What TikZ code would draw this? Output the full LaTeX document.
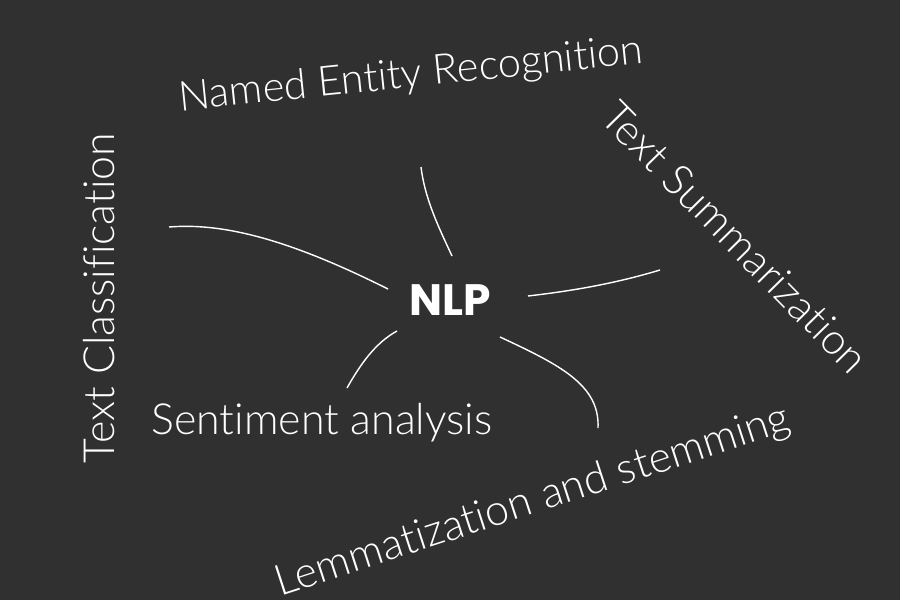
\documentclass[tikz,border=0pt]{standalone}
\usepackage{fontspec}
\setmainfont{Lato Light}[Ligatures=NoCommon]
\newfontfamily\nlpfont{Poppins}[UprightFont=* Bold]
\usepackage{xcolor}
\definecolor{board}{HTML}{303030}

\begin{document}
\begin{tikzpicture}[x=0.01cm,y=-0.01cm,
	topic/.style={text=white,font=\fontsize{12.2}{14}\selectfont,inner sep=0pt},
	stroke/.style={white,line width=0.4pt}]
			\fill[board] (0,0) rectangle (900,600);
			\useasboundingbox (0,0) rectangle (900,600);
			\node[text=white,font=\nlpfont\fontsize{12.5}{14}\selectfont,inner sep=0pt] (nlp) at (450,300) {NLP};
			\node[topic,rotate=5.9,font=\fontsize{11.8}{14}\selectfont] (ner) at (411,76) {Named Entity Recognition};
			\node[topic,rotate=-45.5] (summ) at (735,237) {Text Summarization};
			\node[topic,rotate=90] (clas) at (99,298) {Text Classification};
			\node[topic] (sent) at (322,423) {Sentiment analysis};
			\node[topic,rotate=18] (lemm) at (533,502) {Lemmatization and stemming};
			\coordinate (a1) at (169,227);
			\coordinate (a2) at (388,289);
			\coordinate (b1) at (421,167);
			\coordinate (b2) at (452,256);
			\coordinate (c1) at (528,296);
			\coordinate (c2) at (660,270);
			\coordinate (d1) at (397,331);
			\coordinate (d2) at (347,388);
			\coordinate (e1) at (500,337);
			\coordinate (e2) at (598,428);
			\draw[stroke] (a1) .. controls (230,222) and (300,245) .. (a2);
			\draw[stroke] (b1) .. controls (425,200) and (440,230) .. (b2);
			\draw[stroke] (c1) .. controls (580,290) and (620,282) .. (c2);
			\draw[stroke] (d1) .. controls (375,343) and (360,365) .. (d2);
			\draw[stroke] (e1) .. controls (560,365) and (600,385) .. (e2);
		\end{tikzpicture}
\end{document}
